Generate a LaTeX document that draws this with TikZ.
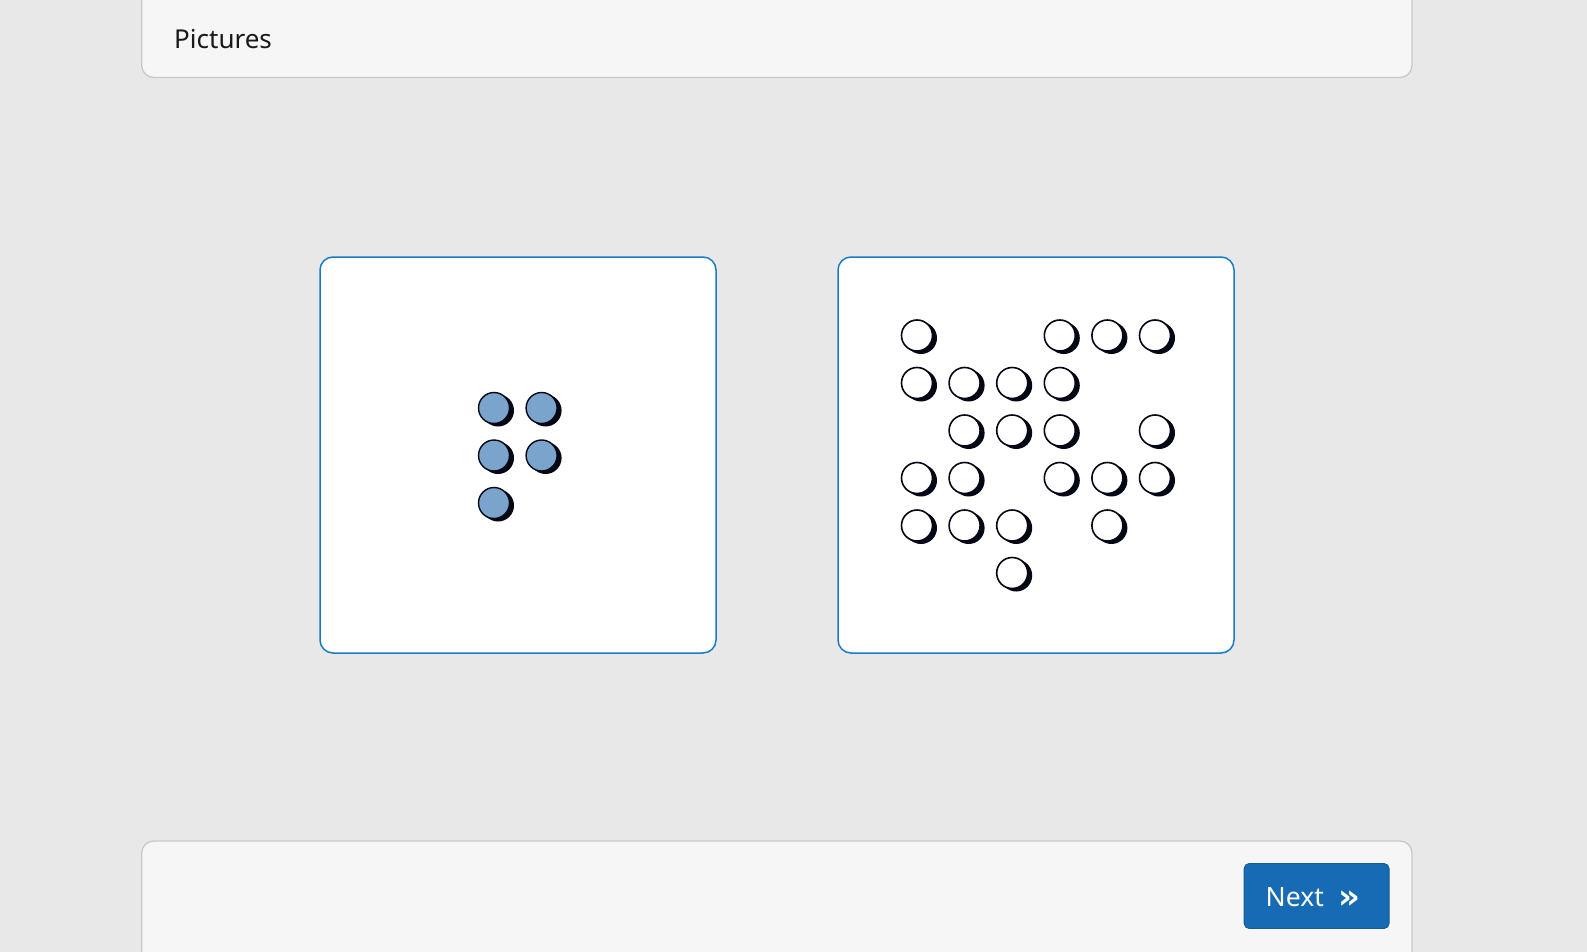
\documentclass[tikz,border=0pt]{standalone}
\usepackage{fontspec}
\setmainfont{Noto Sans}
\newfontfamily\iconfont{DejaVu Sans}
\definecolor{pagebg}{HTML}{E8E8E8}
\definecolor{panelbg}{HTML}{F6F6F6}
\definecolor{panelline}{HTML}{C8C8C8}
\definecolor{cardline}{HTML}{1A7CC4}
\definecolor{btnblue}{HTML}{166BB4}
\definecolor{dotblue}{HTML}{7BA4CC}
\definecolor{ink}{HTML}{050814}
\tikzset{
  panel/.style={fill=panelbg, draw=panelline, line width=1.3pt, rounded corners=12pt},
  card/.style={fill=white, draw=cardline, line width=1.5pt, rounded corners=13pt},
  shadowdot/.style={circle, fill=ink, minimum size=32pt, inner sep=0pt},
  bluedot/.style={circle, fill=dotblue, draw=ink, line width=1.4pt, minimum size=31pt, inner sep=0pt},
  whitedot/.style={circle, fill=white, draw=ink, line width=1.6pt, minimum size=31pt, inner sep=0pt},
  label/.style={font=\fontsize{26}{30}\selectfont, text=black!90, inner sep=0pt, anchor=base west},
}
\begin{document}
\begin{tikzpicture}[x=1pt,y=-1pt]
\useasboundingbox (0,0) rectangle (1587,952);
\fill[pagebg] (0,0) rectangle (1587,952);
\begin{scope}
\clip (0,0) rectangle (1587,952);
% top panel
\draw[panel] (141.7,-30) rectangle (1412,77.5);
\node[label] (title) at (174,48.3) {Pictures};
% bottom panel
\draw[panel] (141.7,841) rectangle (1412,1000);
\end{scope}
% Next button
\node[fill=btnblue, draw=btnblue!85!black, line width=0.8pt, rounded corners=5pt, minimum width=145pt, minimum height=65pt, inner sep=0pt] (next) at (1316.6,896) {};
\node[font=\fontsize{26.5}{30}\selectfont, text=white, inner sep=0pt, anchor=base west] (nexttext) at (1265.5,906.7) {Next};
\node[font=\iconfont\bfseries\fontsize{34}{34}\selectfont, text=white, inner sep=0pt, anchor=base west] (chev) at (1338.5,908) {»};
% cards
\draw[card] (320,257) rectangle (716,653);
\draw[card] (838,257) rectangle (1234,653);
\node (leftcard) at (518,455) {};
\node (rightcard) at (1036,455) {};
% left card dots
\foreach \c/\r [count=\i] in {0/0,1/0,0/1,1/1,0/2}{
  \pgfmathsetmacro{\xx}{494+47.6*\c}
  \pgfmathsetmacro{\yy}{408+47.5*\r}
  \node[shadowdot] (ls\i) at (\xx+4,\yy+2.5) {};
  \node[bluedot] (l\i) at (\xx,\yy) {};
}
% right card dots
\foreach \c/\r [count=\i] in {0/0,3/0,4/0,5/0,
  0/1,1/1,2/1,3/1,
  1/2,2/2,3/2,5/2,
  0/3,1/3,3/3,4/3,5/3,
  0/4,1/4,2/4,4/4,
  2/5}{
  \pgfmathsetmacro{\xx}{917+47.6*\c}
  \pgfmathsetmacro{\yy}{335.5+47.5*\r}
  \node[shadowdot] (rs\i) at (\xx+4,\yy+2.5) {};
  \node[whitedot] (r\i) at (\xx,\yy) {};
}
\end{tikzpicture}
\end{document}
